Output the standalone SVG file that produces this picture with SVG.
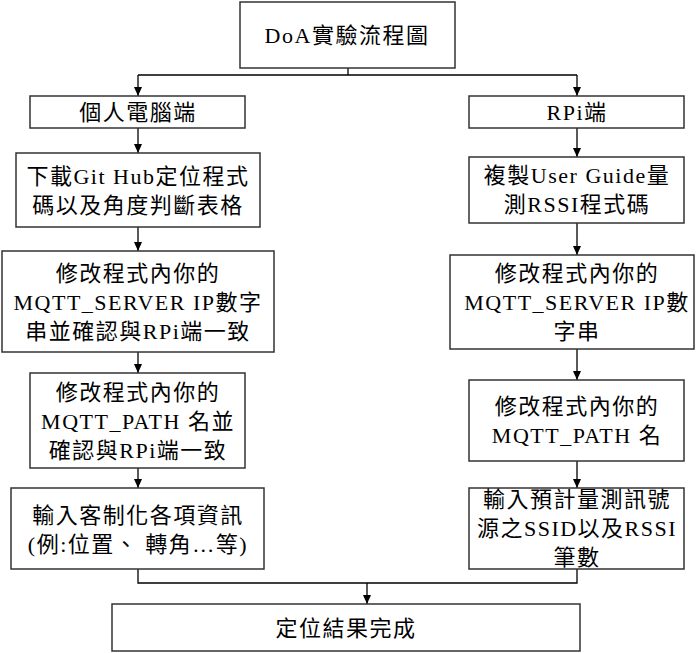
<svg xmlns="http://www.w3.org/2000/svg" width="696" height="653" viewBox="0 0 696 653">
<defs>
<marker id="ah" markerWidth="10" markerHeight="10" refX="9" refY="5" orient="auto" markerUnits="userSpaceOnUse"><path d="M0,1 L9,5 L0,9 Z" fill="#000"/></marker>
<style>
rect{fill:#fff;stroke:#333;stroke-width:1.5}
text{font-family:"Liberation Serif","Noto Sans CJK TC",serif;font-size:22px;letter-spacing:1.5px;fill:#000;text-anchor:middle}
.c line,.c path{stroke:#000;stroke-width:1.3;fill:none}
</style>
</defs>
<g class="c">
<path d="M348,68 V75 M138,75 H577"/>
<line x1="138" y1="75" x2="138" y2="96" marker-end="url(#ah)"/>
<line x1="577" y1="75" x2="577" y2="96" marker-end="url(#ah)"/>
<line x1="138" y1="128" x2="138" y2="153" marker-end="url(#ah)"/>
<line x1="138" y1="227" x2="138" y2="251" marker-end="url(#ah)"/>
<line x1="138" y1="352" x2="138" y2="373" marker-end="url(#ah)"/>
<line x1="138" y1="468" x2="138" y2="488" marker-end="url(#ah)"/>
<line x1="577" y1="128" x2="577" y2="157" marker-end="url(#ah)"/>
<line x1="577" y1="223" x2="577" y2="255" marker-end="url(#ah)"/>
<line x1="577" y1="349" x2="577" y2="380" marker-end="url(#ah)"/>
<line x1="577" y1="461" x2="577" y2="488" marker-end="url(#ah)"/>
<path d="M138,569 V583 H577 V569"/>
<line x1="367" y1="583" x2="367" y2="604" marker-end="url(#ah)"/>
</g>
<g id="title"><rect x="240" y="2" width="215" height="66"/><text x="347" y="43">DoA實驗流程圖</text></g>
<g id="pc"><rect x="30" y="96" width="215" height="32"/><text x="138" y="120">個人電腦端</text></g>
<g id="rpi"><rect x="469" y="96" width="215" height="32"/><text x="577" y="120">RPi端</text></g>
<g id="l1"><rect x="16" y="153" width="244" height="74"/><text x="138" y="184">下載Git Hub定位程式</text><text x="138" y="213">碼以及角度判斷表格</text></g>
<g id="l2"><rect x="2" y="251" width="272" height="101"/><text x="138" y="281">修改程式內你的</text><text x="138" y="310">MQTT_SERVER IP數字</text><text x="138" y="339">串並確認與RPi端一致</text></g>
<g id="l3"><rect x="30" y="373" width="215" height="95"/><text x="138" y="400">修改程式內你的</text><text x="138" y="429">MQTT_PATH 名並</text><text x="138" y="458">確認與RPi端一致</text></g>
<g id="l4"><rect x="11" y="488" width="253" height="81"/><text x="138" y="523">輸入客制化各項資訊</text><text x="138" y="552">(例:位置、 轉角…等)</text></g>
<g id="r1"><rect x="469" y="157" width="215" height="66"/><text x="577" y="183">複製User Guide量</text><text x="577" y="212">測RSSI程式碼</text></g>
<g id="r2"><rect x="450" y="255" width="244" height="94"/><text x="577" y="281">修改程式內你的</text><text x="577" y="310">MQTT_SERVER IP數</text><text x="577" y="339">字串</text></g>
<g id="r3"><rect x="469" y="380" width="215" height="81"/><text x="577" y="414">修改程式內你的</text><text x="577" y="443">MQTT_PATH 名</text></g>
<g id="r4"><rect x="469" y="488" width="215" height="81"/><text x="577" y="507">輸入預計量測訊號</text><text x="577" y="536">源之SSID以及RSSI</text><text x="577" y="565">筆數</text></g>
<g id="done"><rect x="112" y="604" width="468" height="47"/><text x="346" y="636">定位結果完成</text></g>
</svg>
